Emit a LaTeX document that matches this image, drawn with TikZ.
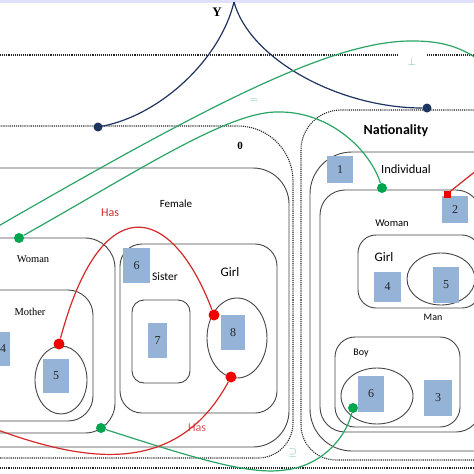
\documentclass[tikz,border=0pt]{standalone}
\usepackage{amsmath}
\usepackage{amssymb}
\usepackage{fontspec}
\setmainfont{Liberation Serif}
\setsansfont{Carlito}
\usetikzlibrary{shapes.geometric}
\definecolor{navy}{HTML}{1F3560}
\definecolor{lgreen}{HTML}{2BA566}
\definecolor{dgreen}{HTML}{00A550}
\definecolor{lred}{HTML}{D42A2A}
\definecolor{dred}{HTML}{F00000}
\definecolor{steel}{HTML}{95B3D7}
\definecolor{frame}{HTML}{454545}

\begin{document}
\begin{tikzpicture}[x=1pt,y=-1pt,
  box/.style={draw=frame,line width=0.9pt},
  dotline/.style={draw=black!85,densely dotted,line width=1.1pt},
  oval/.style 2 args={draw=frame,line width=0.9pt,ellipse,inner sep=0pt,minimum width=#1,minimum height=#2},
  bluebox/.style 2 args={fill=steel,minimum width=#1,minimum height=#2,inner sep=0pt,text=black!85,font=\fontsize{12}{12}\selectfont},
  sans/.style={inner sep=0pt,font=\sffamily\fontsize{#1}{#1}\selectfont},
  serif/.style={inner sep=0pt,font=\fontsize{#1}{#1}\selectfont},
  dot/.style={circle,fill=#1,inner sep=0pt,minimum size=10pt},
  navyline/.style={draw=navy,line width=1.2pt},
  greenline/.style={draw=lgreen,line width=1.2pt},
  redline/.style={draw=lred,line width=1.2pt}]
\useasboundingbox (0,0) rectangle (474,474);
\fill[white] (0,0) rectangle (474,474);
\clip (0,0) rectangle (474,474);
\fill[blue!12] (0,0) rectangle (474,2.5);

\draw[dotline] (0,55) -- (397,55);
\draw[dotline] (427,55) -- (474,55);
\draw[dotline,rounded corners=55] (-5,126) -- (293,126) -- (293,300);
\draw[dotline,rounded corners=35] (293,300) -- (293,458) -- (-5,458);
\draw[dotline,rounded corners=40] (480,110) -- (301,110) -- (301,300);
\draw[dotline,rounded corners=35] (301,300) -- (301,460) -- (480,460);
\draw[dotline] (0,468) -- (474,468);

\draw[box,rounded corners=36] (-5,168) -- (289,168) -- (289,447) -- (-5,447);
\draw[box,rounded corners=30] (-5,238) -- (115,238) -- (115,433) -- (-5,433);
\draw[box,rounded corners=25] (-5,290) -- (93,290) -- (93,421) -- (-5,421);
\draw[box,rounded corners=22] (120,244) rectangle (277,413);
\draw[box,rounded corners=12] (132,300) rectangle (190,383);
\draw[box,rounded corners=42] (480,152) -- (310,152) -- (310,451) -- (480,451);
\draw[box,rounded corners=25] (320,190) rectangle (481,432);
\draw[box,rounded corners=18] (358,235) rectangle (480,308);
\draw[box,rounded corners=20] (335,337) rectangle (460,427);

\node[oval={52}{68}] (ovFiveL) at (61,380) {};
\node[oval={60}{80}] (ovEight) at (237,338) {};
\node[oval={68}{52}] (ovFiveR) at (441,279) {};
\node[oval={72}{56}] (ovSix) at (377,396) {};

\node[bluebox={14}{34}] (fourL) at (3,349) {4};
\node[bluebox={26}{34}] (fiveL) at (56,376) {5};
\node[bluebox={27}{35}] (sixL) at (136.5,265.5) {6};
\node[bluebox={19}{35}] (seven) at (157.5,340.5) {7};
\node[bluebox={24}{35}] (eight) at (233,332.5) {8};
\node[bluebox={26}{27}] (one) at (340,169.5) {1};
\node[bluebox={26}{27}] (two) at (455,209.5) {2};
\node[bluebox={27}{30}] (fourR) at (387.5,287) {4};
\node[bluebox={26}{36}] (fiveR) at (446,285) {5};
\node[bluebox={26}{36}] (sixR) at (371,394) {6};
\node[bluebox={28}{36}] (three) at (438,398) {3};

\node[inner sep=0pt,font=\bfseries\fontsize{13}{13}\selectfont] (ylab) at (217,12) {Y};
\node[inner sep=0pt,font=\bfseries\fontsize{11}{11}\selectfont] (zero) at (240,146) {0};
\node[inner sep=0pt,text=lgreen!70,font=\fontsize{11}{11}\selectfont] (eqlab) at (254,100) {$=$};
\node[inner sep=0pt,text=lgreen!70,font=\fontsize{11}{11}\selectfont] (perplab) at (412,62) {$\perp$};
\node[inner sep=0pt,text=lgreen!70,font=\fontsize{11}{11}\selectfont] (suplab) at (293,453) {$\supseteq$};
\node[inner sep=0pt,font=\sffamily\bfseries\fontsize{14}{14}\selectfont] (nat) at (396,131) {Nationality};
\node[sans=12.5] (indiv) at (406,169) {Individual};
\node[sans=10.5] (womanR) at (392,223) {Woman};
\node[sans=13] (girlR) at (384,257) {Girl};
\node[sans=10] (man) at (433,317) {Man};
\node[sans=10] (boy) at (361,353) {Boy};
\node[sans=11] (female) at (176,204) {Female};
\node[sans=12,text=lred] (hasTop) at (110,213) {Has};
\node[sans=12,text=lred!80] (hasBot) at (197,428) {Has};
\node[sans=11.5] (sister) at (165,277) {Sister};
\node[sans=13] (girlL) at (230,272) {Girl};
\node[serif=10.5] (womanL) at (33,259) {Woman};
\node[serif=10.5] (mother) at (30,312) {Mother};

\coordinate (apex) at (234,2);
\node[dot=navy,minimum size=9pt] (nL) at (98,127) {};
\node[dot=navy,minimum size=9pt] (nR) at (427,108) {};
\node[dot=dgreen] (gWomanL) at (19,238) {};
\node[dot=dgreen] (gIndiv) at (382,188) {};
\node[dot=dgreen] (gWomanBot) at (101,428) {};
\node[dot=dgreen] (gBoy) at (353,408) {};
\node[dot=dred,minimum size=11pt] (rMother) at (59,344) {};
\node[dot=dred,minimum size=11pt] (rGirlTop) at (214,315) {};
\node[dot=dred,minimum size=11pt] (rGirlBot) at (231,377) {};
\node[fill=dred,inner sep=0pt,minimum size=7pt] (rInd) at (447,194) {};
\coordinate (gA1) at (-5,228);
\coordinate (gA2) at (482,62);
\coordinate (rLeft) at (-5,429);
\coordinate (rRight) at (482,166);

\draw[navyline] (apex) .. controls (220,60) and (160,115) .. (nL);
\draw[navyline] (apex) .. controls (250,60) and (340,108) .. (nR);
\draw[greenline] (gA1) .. controls (200,110) and (330,40) .. (413,41) .. controls (440,41) and (460,46) .. (gA2);
\draw[greenline] (gWomanL) .. controls (140,170) and (230,110) .. (280,112) .. controls (330,112) and (370,150) .. (gIndiv);
\draw[greenline] (gWomanBot) .. controls (200,460) and (250,475) .. (285,470) .. controls (320,466) and (345,440) .. (gBoy);
\draw[redline] (rMother) .. controls (100,190) and (170,200) .. (rGirlTop);
\draw[redline] (rLeft) .. controls (80,460) and (175,480) .. (rGirlBot);
\draw[redline] (rInd) -- (rRight);
\end{tikzpicture}
\end{document}
